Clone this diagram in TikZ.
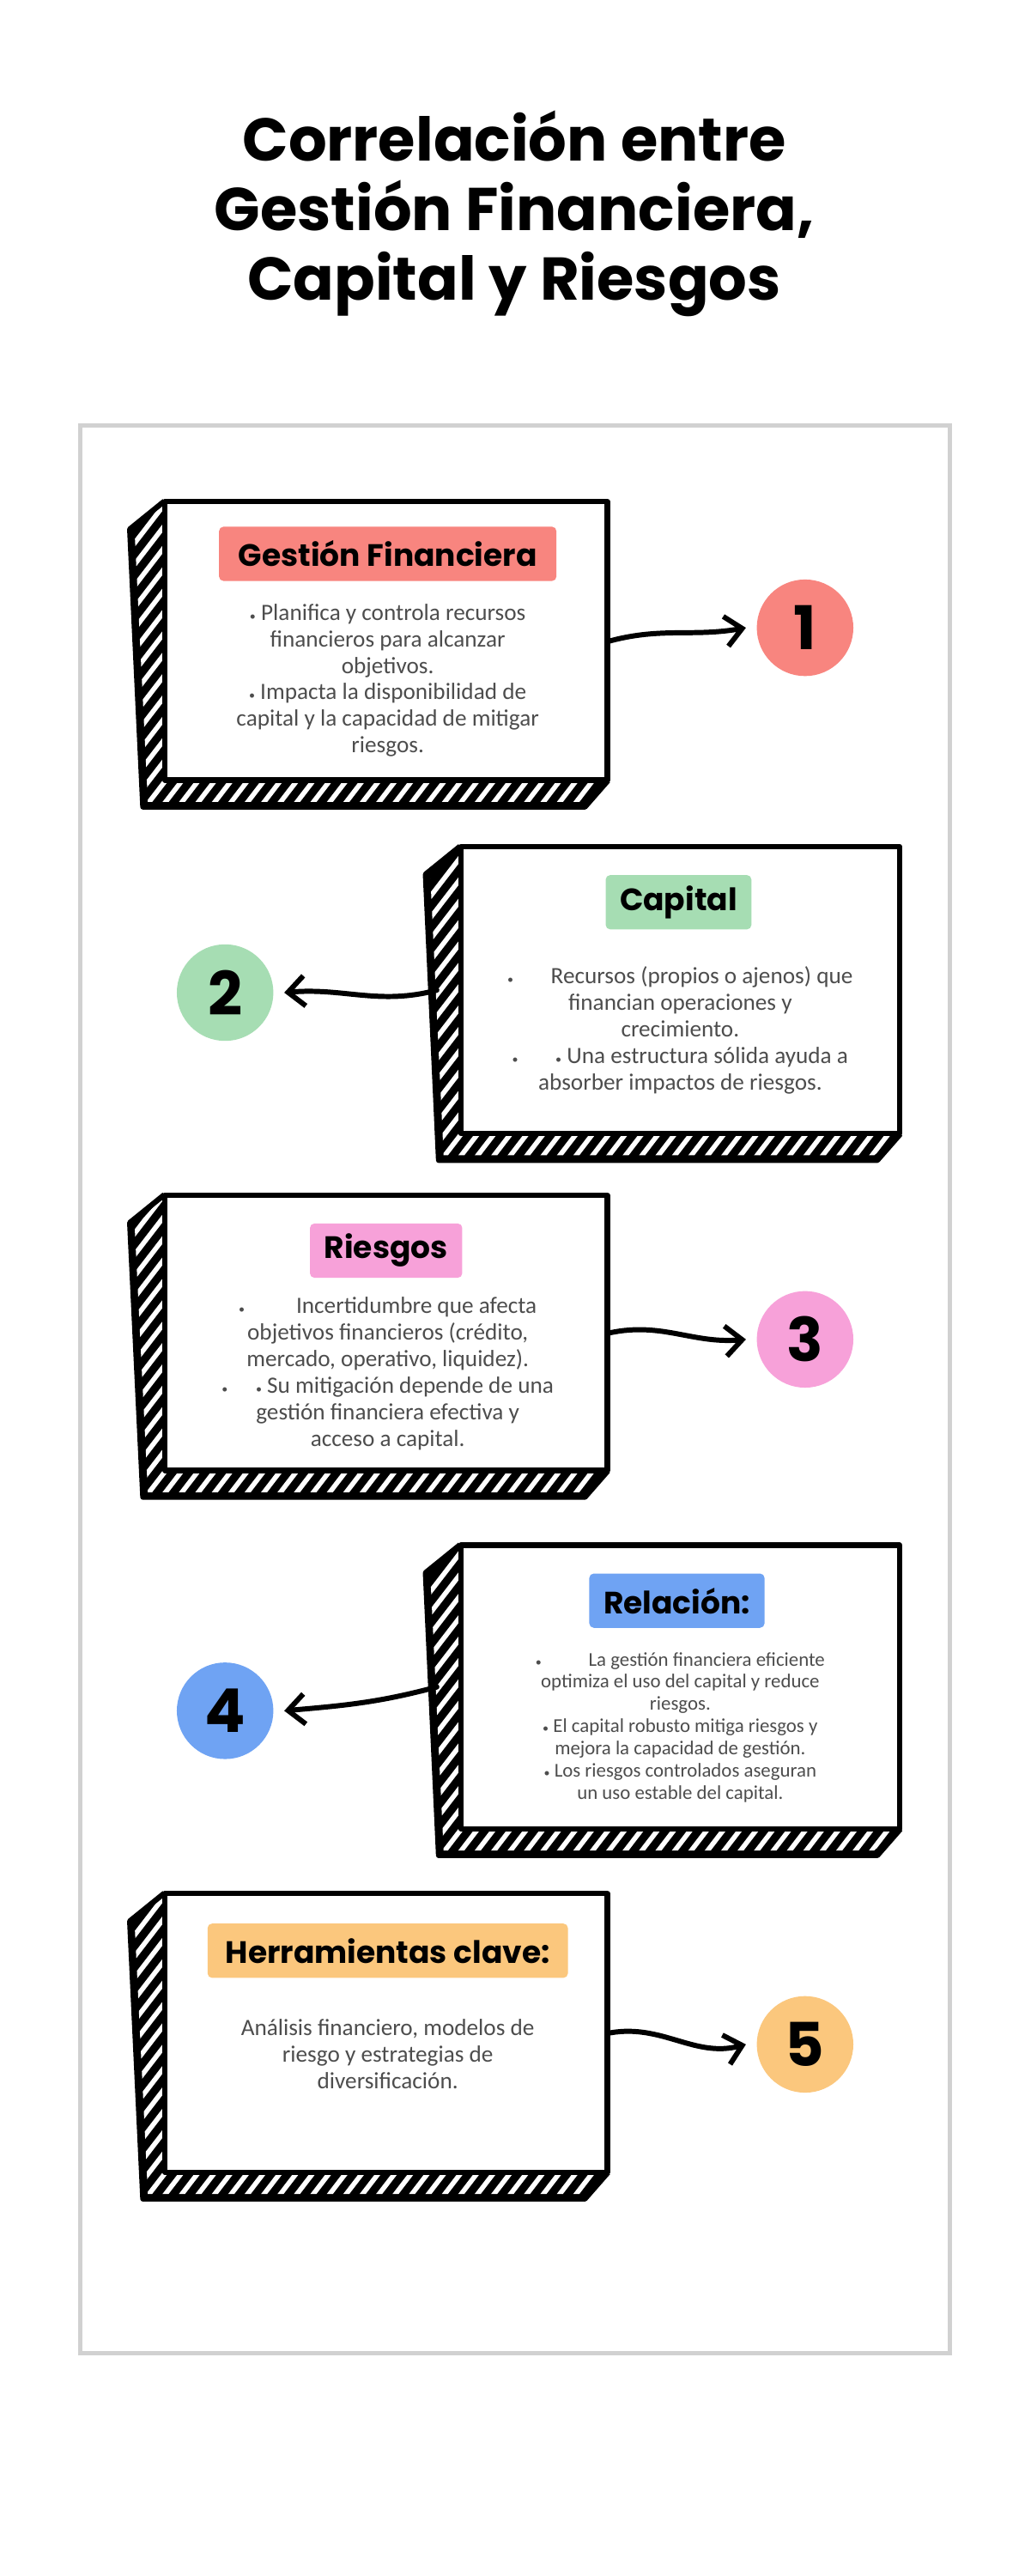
\documentclass[tikz,border=0pt]{standalone}
\usepackage{fontspec}
\setmainfont{Carlito}
\newfontfamily\pop{Poppins}
\usetikzlibrary{arrows.meta}
\definecolor{gtext}{HTML}{4D4D4D}
\definecolor{cred}{HTML}{F8857F}
\definecolor{cgreen}{HTML}{A6DDB3}
\definecolor{cpink}{HTML}{F7A1D9}
\definecolor{cblue}{HTML}{6FA3F3}
\definecolor{corange}{HTML}{FBC77D}
\newcommand\bul{{\footnotesize•}}
\tikzset{
 frontbox/.style={draw=black,fill=white,line width=3.6pt,line join=round,inner sep=0pt},
 badge/.style={rounded corners=3pt,inner sep=0pt,minimum height=36pt,font=\pop\bfseries\fontsize{20.5}{22}\selectfont},
 body/.style={text=gtext,align=center,font=\fontsize{15.5}{17.6}\selectfont},
 num/.style={circle,inner sep=0pt,minimum size=64pt,font=\pop\bfseries\fontsize{40}{40}\selectfont},
 arr/.style={line width=3.4pt,line cap=round,-{Straight Barb[length=11pt,width=20pt,line width=3.4pt]}}
}
\newcommand\skbox[5]{%
 \path[fill=black] (#2,#3) -- ({#2-21},{#3+17}) -- ({#2-13},{#5+16}) -- ({#4-14},{#5+16}) -- (#4,#5) -- cycle;
 \begin{scope}
 \clip ({#2-18},{#3+20}) -- ({#2-10},{#5+13}) -- ({#4-16},{#5+13}) -- (#4,#5) -- (#2,#3) -- cycle;
 \foreach \s in {-400,-390,...,600} \draw[white,line width=3.2pt] (\s,{#5+40}) -- ++(300,-390);
 \end{scope}
 \draw[line width=3.6pt,line join=round] (#2,#3) -- ({#2-21},{#3+17}) -- ({#2-13},{#5+16}) -- ({#4-14},{#5+16}) -- (#4,#5);
 \node[frontbox,minimum width={(#4-#2)*1.086pt},minimum height={(#5-#3)*1.086pt}] (#1) at ({(#2+#4)/2},{(#3+#5)/2}) {};
}
\begin{document}
\begin{tikzpicture}[x=0.03828cm,y=-0.03828cm]
\useasboundingbox[fill=white] (0,0) rectangle (627,1567.5);
\node[font=\pop\bfseries\fontsize{40}{46}\selectfont,align=center] (title) at (313,130) {Correlación entre\\Gestión Financiera,\\Capital y Riesgos};
\draw[draw=black!18,line width=2.6pt] (49,259) rectangle (578,1432);

% box 1
\skbox{b1}{100}{305}{370}{475}
\node[badge,fill=cred,minimum width={206*1.086pt}] (h1) at (236,337) {Gestión Financiera};
\node[body] (t1) at (236,414) {\bul\ Planifica y controla recursos\\financieros para alcanzar\\objetivos.\\\bul\ Impacta la disponibilidad de\\capital y la capacidad de mitigar\\riesgos.};
\node[num,fill=cred] (c1) at (490,382) {1};
\draw[arr] (b1.east) to[out=15,in=190] ([xshift=-7pt]c1.west);

% box 2
\skbox{b2}{280}{515}{548}{690}
\node[badge,fill=cgreen,minimum width={89*1.086pt}] (h2) at (413,549) {Capital};
\node[body] (t2) at (414,627) {\bul\hspace{1.6em}Recursos (propios o ajenos) que\\financian operaciones y\\crecimiento.\\\bul\hspace{1.6em}\bul\ Una estructura sólida ayuda a\\absorber impactos de riesgos.};
\node[num,fill=cgreen] (c2) at (137,604) {2};
\draw[arr] ([xshift=-14pt]b2.west) to[out=195,in=5] ([xshift=7pt]c2.east);

% box 3
\skbox{b3}{100}{727}{370}{895}
\node[badge,fill=cpink,minimum width={93*1.086pt}] (h3) at (235,761) {Riesgos};
\node[body] (t3) at (236,836) {\bul\hspace{2.2em}Incertidumbre que afecta\\objetivos financieros (crédito,\\mercado, operativo, liquidez).\\\bul\hspace{1.2em}\bul\ Su mitigación depende de una\\gestión financiera efectiva y\\acceso a capital.};
\node[num,fill=cpink] (c3) at (490,815) {3};
\draw[arr] (b3.east) to[out=12,in=185] ([xshift=-7pt]c3.west);

% box 4
\skbox{b4}{280}{940}{548}{1113}
\node[badge,fill=cblue,minimum width={107*1.086pt}] (h4) at (412,974) {Relación:};
\node[body,font=\fontsize{13}{14.7}\selectfont] (t4) at (414,1051) {\bul\hspace{2.4em}La gestión financiera eficiente\\optimiza el uso del capital y reduce\\riesgos.\\\bul\ El capital robusto mitiga riesgos y\\mejora la capacidad de gestión.\\\bul\ Los riesgos controlados aseguran\\un uso estable del capital.};
\node[num,fill=cblue] (c4) at (137,1041) {4};
\draw[arr] ([xshift=-14pt]b4.west) to[out=195,in=5] ([xshift=7pt]c4.east);

% box 5
\skbox{b5}{100}{1152}{370}{1322}
\node[badge,fill=corange,minimum width={220*1.086pt}] (h5) at (236,1187) {Herramientas clave:};
\node[body] (t5) at (236,1250) {Análisis financiero, modelos de\\riesgo y estrategias de\\diversificación.};
\node[num,fill=corange] (c5) at (490,1244) {5};
\draw[arr] (b5.east) to[out=10,in=195] ([xshift=-7pt]c5.west);
\end{tikzpicture}
\end{document}
